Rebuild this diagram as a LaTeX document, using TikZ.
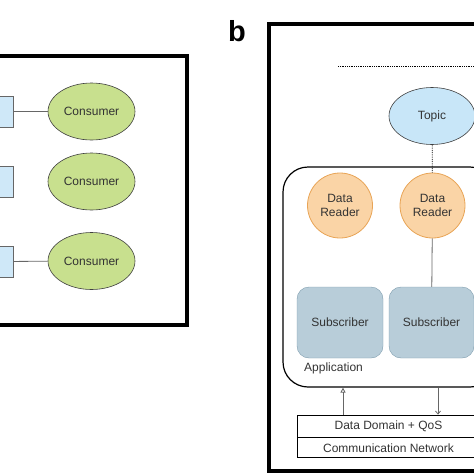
\documentclass[tikz,border=0pt]{standalone}
\usepackage{fontspec}
\setmainfont{Liberation Sans}
\usetikzlibrary{arrows.meta, positioning, shapes.geometric}
\definecolor{consfill}{HTML}{C8E08E}
\definecolor{prodfill}{HTML}{CFE8F8}
\definecolor{topicfill}{HTML}{C8E6F8}
\definecolor{drfill}{HTML}{FAD4A6}
\definecolor{drdraw}{HTML}{E8A456}
\definecolor{subfill}{HTML}{B8CDD9}
\definecolor{subdraw}{HTML}{7E9CAD}
\definecolor{txt}{HTML}{333333}

\begin{document}
\begin{tikzpicture}[x=1pt, y=-1pt, font=\fontsize{12}{13.5}\selectfont, text=txt,
    frame/.style={draw, line width=4pt},
    cons/.style={ellipse, draw=black!75, semithick, fill=consfill, minimum width=87pt, minimum height=57pt, inner sep=0pt},
    prod/.style={draw=black!60, semithick, fill=prodfill, minimum width=26pt, minimum height=31pt, inner sep=0pt},
    topicnode/.style={ellipse, draw=black!75, semithick, fill=topicfill, minimum width=86pt, minimum height=57pt, inner sep=0pt},
    reader/.style={circle, draw=drdraw, thick, fill=drfill, minimum size=65pt, inner sep=0pt, align=center},
    sub/.style={draw=subdraw, fill=subfill, rounded corners=12pt, minimum width=86pt, minimum height=71pt, inner sep=0pt},
    layer/.style={draw, thick, minimum width=183pt, inner sep=0pt},
    link/.style={draw=black!60, thick}]
    \useasboundingbox (0,0) rectangle (474,474);
    \clip (0,0) rectangle (474,474);

    % panel a (cut)
    \draw[frame] (-10,56) rectangle (187,325);
    \node[prod] (p1) at (0,111.5) {};
    \node[prod] (p2) at (0,182) {};
    \node[prod] (p3) at (0,261.5) {};
    \node[cons] (c1) at (91.5,111.5) {Consumer};
    \node[cons] (c2) at (91.5,181.5) {Consumer};
    \node[cons] (c3) at (91.5,261) {Consumer};
    \draw[link] (p1) -- (c1);
    \draw[link] (p3) -- (c3);

    % panel b
    \node[font=\fontsize{29}{30}\selectfont\bfseries, text=black] (lb) at (237,31) {b};
    \draw[frame] (269,24) rectangle (495,471);
    \coordinate (dl) at (338,66);
    \coordinate (dr) at (480,66);
    \draw[densely dotted, thick] (dl) -- (dr);

    \node[draw, line width=1.2pt, rounded corners=25pt, minimum width=212pt, minimum height=220pt] (app) at (389,277) {};
    \node[anchor=west, inner sep=0pt] (applbl) at (304,368) {Application};
    \node[topicnode] (topic) at (432,116) {Topic};
    \node[reader] (dr1) at (340,205.5) {Data\\Reader};
    \node[reader] (dr2) at (432.5,205.5) {Data\\Reader};
    \node[sub] (s1) at (340,322.5) {Subscriber};
    \node[sub, minimum width=85pt] (s2) at (431.5,322.5) {Subscriber};
    \draw[densely dotted, thick] (topic) -- (dr2);
    \draw[link] (dr2) -- (s2);

    \node[layer, minimum height=22pt] (dd) at (388.5,426) {Data Domain + QoS};
    \node[layer, minimum height=20pt, below=0pt of dd] (cn) {Communication Network};
    \coordinate (up) at (343,0);
    \coordinate (down) at (438,0);
    \draw[link, -{Triangle[open, length=5pt, width=5pt]}] (dd.north -| up) -- (app.south -| up);
    \draw[link, -{Straight Barb[length=3pt, width=5pt]}] (app.south -| down) -- (dd.north -| down);
  \end{tikzpicture}
\end{document}
